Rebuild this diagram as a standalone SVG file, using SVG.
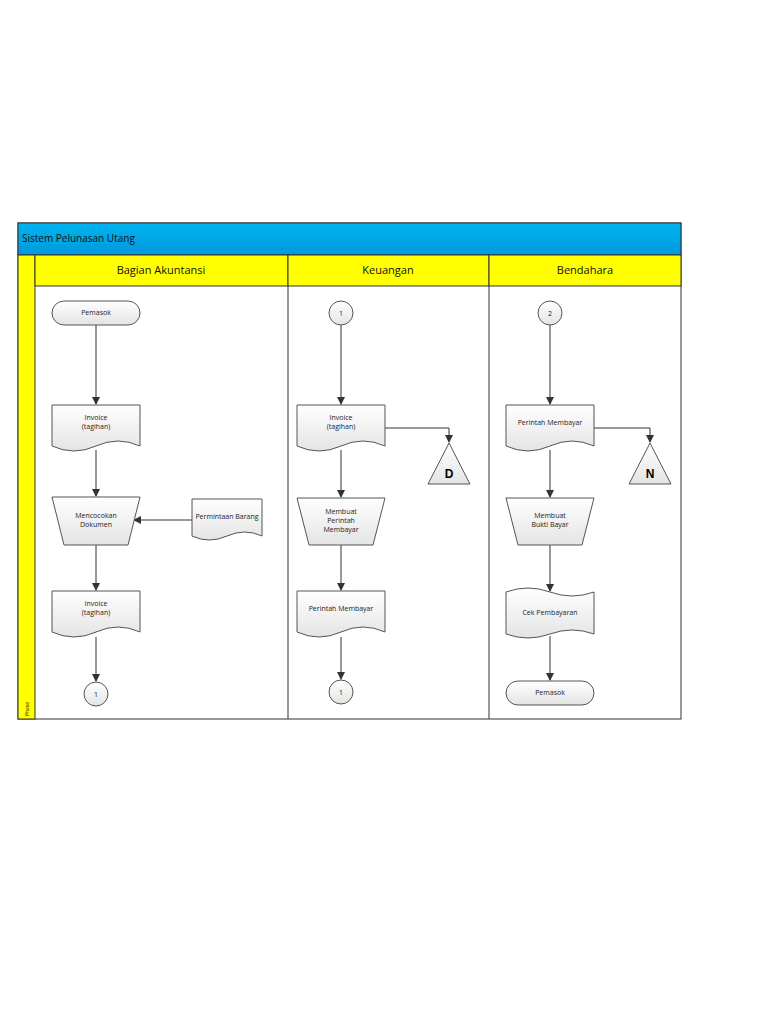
<svg xmlns="http://www.w3.org/2000/svg" width="768" height="1024" viewBox="0 0 768 1024">
<style>
.s{fill:url(#g);stroke:#555;stroke-width:1}
.t{font-family:"Open Sans","Liberation Sans",sans-serif;font-size:7px;fill:#222;text-anchor:middle}
.h{font-family:"Open Sans","Liberation Sans",sans-serif;font-size:11px;fill:#111;text-anchor:middle}
.c{fill:none;stroke:#333;stroke-width:1;marker-end:url(#a)}
</style>
<defs>
<linearGradient id="g" x1="0" y1="0" x2="0" y2="1"><stop offset="0" stop-color="#fff"/><stop offset="1" stop-color="#e4e4e4"/></linearGradient>
<linearGradient id="b" x1="0" y1="0" x2="0" y2="1"><stop offset="0" stop-color="#00b4f0"/><stop offset="1" stop-color="#0099dd"/></linearGradient>
<marker id="a" markerWidth="8" markerHeight="8" refX="7" refY="4" orient="auto" markerUnits="userSpaceOnUse"><path d="M0,0 L8,4 L0,8 Z" fill="#333"/></marker>
</defs>
<rect width="768" height="1024" fill="#fff"/>
<g id="pool">
<rect x="18" y="223" width="663" height="496" fill="#fff" stroke="#333"/>
<rect x="18" y="223" width="663" height="32" fill="url(#b)" stroke="#333"/>
<text x="22" y="242" font-family="Open Sans,Liberation Sans,sans-serif" font-size="10" fill="#111">Sistem Pelunasan Utang</text>
<rect x="18" y="255" width="17" height="464" fill="#ffff00" stroke="#333"/>
<text transform="translate(29,716) rotate(-90)" font-family="Open Sans,Liberation Sans,sans-serif" font-size="5" fill="#111">Phase</text>
<rect x="35" y="255" width="253" height="31" fill="#ffff00" stroke="#333"/>
<rect x="288" y="255" width="201" height="31" fill="#ffff00" stroke="#333"/>
<rect x="489" y="255" width="192" height="31" fill="#ffff00" stroke="#333"/>
<text class="h" x="161" y="274">Bagian Akuntansi</text>
<text class="h" x="388" y="274">Keuangan</text>
<text class="h" x="585" y="274">Bendahara</text>
<line x1="288" y1="286" x2="288" y2="719" stroke="#333"/>
<line x1="489" y1="286" x2="489" y2="719" stroke="#333"/>
</g>
<g id="connectors">
<path class="c" d="M96,325 V404"/>
<path class="c" d="M96,450 V496"/>
<path class="c" d="M192,520 H134"/>
<path class="c" d="M96,545 V590"/>
<path class="c" d="M96,637 V681"/>
<path class="c" d="M341,325 V404"/>
<path class="c" d="M385,428 H449 V442"/>
<path class="c" d="M341,450 V497"/>
<path class="c" d="M341,545 V590"/>
<path class="c" d="M341,637 V679"/>
<path class="c" d="M550,325 V404"/>
<path class="c" d="M594,428 H650 V442"/>
<path class="c" d="M550,450 V497"/>
<path class="c" d="M550,545 V591"/>
<path class="c" d="M550,636 V680"/>
</g>
<g id="n1"><rect class="s" x="52" y="301" width="88" height="24" rx="12"/><text class="t" x="96" y="315">Pemasok</text></g>
<g id="n2"><path class="s" d="M52,405 H140 V446 Q118,436 96,446 T52,446 Z"/><text class="t" x="96" y="420">Invoice</text><text class="t" x="96" y="429">(tagihan)</text></g>
<g id="n3"><path class="s" d="M52,497 H140 L128,545 H64 Z"/><text class="t" x="96" y="518">Mencocokan</text><text class="t" x="96" y="527">Dokumen</text></g>
<g id="n4"><path class="s" d="M192,499 H262 V536 Q245,528 227,536 T192,536 Z"/><text class="t" x="227" y="519">Permintaan Barang</text></g>
<g id="n5"><path class="s" d="M52,591 H140 V632 Q118,622 96,632 T52,632 Z"/><text class="t" x="96" y="606">Invoice</text><text class="t" x="96" y="615">(tagihan)</text></g>
<g id="n6"><circle class="s" cx="96" cy="694" r="12"/><text class="t" x="96" y="697">1</text></g>
<g id="n7"><circle class="s" cx="341" cy="313" r="12"/><text class="t" x="341" y="316">1</text></g>
<g id="n8"><path class="s" d="M297,405 H385 V446 Q363,436 341,446 T297,446 Z"/><text class="t" x="341" y="420">Invoice</text><text class="t" x="341" y="429">(tagihan)</text></g>
<g id="n9"><path class="s" d="M428,484 L449,443 L470,484 Z"/><text x="449" y="478" text-anchor="middle" font-family="Liberation Sans,sans-serif" font-weight="bold" font-size="12">D</text></g>
<g id="n10"><path class="s" d="M297,498 H385 L373,545 H309 Z"/><text class="t" x="341" y="514">Membuat</text><text class="t" x="341" y="523">Perintah</text><text class="t" x="341" y="532">Membayar</text></g>
<g id="n11"><path class="s" d="M297,591 H385 V632 Q363,622 341,632 T297,632 Z"/><text class="t" x="341" y="611">Perintah Membayar</text></g>
<g id="n12"><circle class="s" cx="341" cy="692" r="12"/><text class="t" x="341" y="695">1</text></g>
<g id="n13"><circle class="s" cx="550" cy="313" r="12"/><text class="t" x="550" y="316">2</text></g>
<g id="n14"><path class="s" d="M506,405 H594 V446 Q572,436 550,446 T506,446 Z"/><text class="t" x="550" y="425">Perintah Membayar</text></g>
<g id="n15"><path class="s" d="M629,484 L650,443 L671,484 Z"/><text x="650" y="478" text-anchor="middle" font-family="Liberation Sans,sans-serif" font-weight="bold" font-size="12">N</text></g>
<g id="n16"><path class="s" d="M506,498 H594 L582,545 H518 Z"/><text class="t" x="550" y="518">Membuat</text><text class="t" x="550" y="527">Bukti Bayar</text></g>
<g id="n17"><path class="s" d="M506,592 Q528,584 550,592 T594,592 V634 Q572,626 550,634 T506,634 Z"/><text class="t" x="550" y="615">Cek Pembayaran</text></g>
<g id="n18"><rect class="s" x="506" y="681" width="88" height="24" rx="12"/><text class="t" x="550" y="695">Pemasok</text></g>
</svg>
